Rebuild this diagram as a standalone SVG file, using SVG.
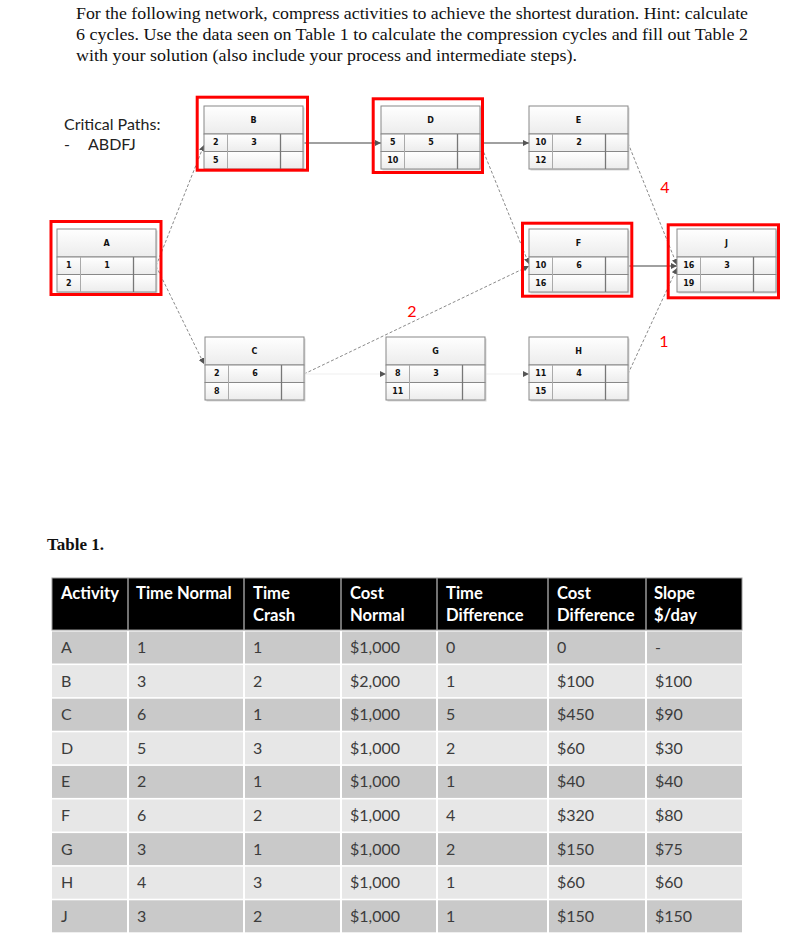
<svg xmlns="http://www.w3.org/2000/svg" xmlns:xlink="http://www.w3.org/1999/xlink" width="803" height="947" viewBox="0 0 803 947">
<style>
.para{font-family:"Liberation Serif","Times New Roman",serif;font-size:17px;fill:#111}
.crit{font-family:Lato,"Liberation Sans",sans-serif;font-size:16px;fill:#222}
.nt{font-family:"DejaVu Sans",sans-serif;font-weight:bold;font-size:8px;fill:#111;text-anchor:middle}
.red{fill:none;stroke:#ff0000;stroke-width:3}
.rl{font-family:Lato,"Liberation Sans",sans-serif;font-size:16px;fill:#ff0000;text-anchor:middle}
.dash{fill:none;stroke:#8a8a8a;stroke-width:1;stroke-dasharray:3 2}
.solid{fill:none;stroke:#808080;stroke-width:1.4}
.faint{fill:none;stroke:#efefef;stroke-width:1}
.th{font-family:Lato,"Liberation Sans",sans-serif;font-weight:bold;font-size:16.6px;fill:#fff}
.td{font-family:Lato,"Liberation Sans",sans-serif;font-size:16px;fill:#3c3c3c}
.tcap{font-family:"Liberation Serif","Times New Roman",serif;font-weight:bold;font-size:17px;fill:#111}
</style>
<defs>
<linearGradient id="ng" x1="0" y1="0" x2="0" y2="1">
<stop offset="0" stop-color="#ffffff"/>
<stop offset="1" stop-color="#ececec"/>
</linearGradient>
<symbol id="nodebox" overflow="visible">
<rect x="1.5" y="1.5" width="99" height="63" fill="#d8d8d8"/>
<rect x="0" y="0" width="99" height="28" fill="url(#ng)" stroke="#888" stroke-width="1"/>
<rect x="0" y="28" width="99" height="17.5" fill="url(#ng)" stroke="#888" stroke-width="1"/>
<rect x="0" y="45.5" width="99" height="17.5" fill="url(#ng)" stroke="#888" stroke-width="1"/>
<line x1="23.5" y1="28" x2="23.5" y2="63" stroke="#aaa" stroke-width="1"/>
<line x1="76.5" y1="28" x2="76.5" y2="63" stroke="#777" stroke-width="1.3"/>
</symbol>
<marker id="ah" viewBox="0 0 6 6" refX="6" refY="3" markerWidth="6" markerHeight="6" markerUnits="userSpaceOnUse" orient="auto">
<path d="M0,0 L6,3 L0,6 Z" fill="#555"/>
</marker>
</defs>
<rect width="803" height="947" fill="#fff"/>

<g id="intro">
<text class="para" x="76" y="19" textLength="672" lengthAdjust="spacingAndGlyphs">For the following network, compress activities to achieve the shortest duration. Hint: calculate</text>
<text class="para" x="76" y="40" textLength="672" lengthAdjust="spacingAndGlyphs">6 cycles. Use the data seen on Table 1 to calculate the compression cycles and fill out Table 2</text>
<text class="para" x="76" y="61" textLength="501" lengthAdjust="spacingAndGlyphs">with your solution (also include your process and intermediate steps).</text>
</g>

<g id="critical-paths">
<text class="crit" x="64" y="130">Critical Paths:</text>
<text class="crit" x="64" y="150">-</text>
<text class="crit" x="88" y="150">ABDFJ</text>
</g>

<g id="connectors">
<path class="dash" d="M156,266 L204,145" marker-end="url(#ah)"/>
<path class="dash" d="M156,266 L204,364" marker-end="url(#ah)"/>
<path class="solid" d="M304,143 L381,143" marker-end="url(#ah)"/>
<path class="solid" d="M480,143 L529,143" marker-end="url(#ah)"/>
<path class="dash" d="M480,143 L529,264" marker-end="url(#ah)"/>
<path class="dash" d="M628,143 L677,265" marker-end="url(#ah)"/>
<path class="dash" d="M304,374 L529,266" marker-end="url(#ah)"/>
<path class="solid" d="M628,266 L677,266" marker-end="url(#ah)"/>
<path class="dash" d="M628,374 L677,268" marker-end="url(#ah)"/>
<path class="faint" d="M304,374 L386,374" marker-end="url(#ah)"/>
<path class="faint" d="M485,374 L529,374" marker-end="url(#ah)"/>
<text class="rl" x="412" y="317">2</text>
<text class="rl" x="665" y="193">4</text>
<text class="rl" x="664" y="347">1</text>
</g>

<g id="node-A">
<use xlink:href="#nodebox" x="57" y="229"/>
<text class="nt" x="106.5" y="245.5">A</text>
<text class="nt" x="68.8" y="268">1</text>
<text class="nt" x="107" y="268">1</text>
<text class="nt" x="68.8" y="286">2</text>
<rect class="red" x="51" y="221.5" width="110" height="73"/>
</g>
<g id="node-B">
<use xlink:href="#nodebox" x="204" y="106"/>
<text class="nt" x="253.5" y="122.5">B</text>
<text class="nt" x="215.8" y="145">2</text>
<text class="nt" x="254" y="145">3</text>
<text class="nt" x="215.8" y="163">5</text>
<rect class="red" x="197.2" y="97.2" width="110.3" height="73"/>
</g>
<g id="node-C">
<use xlink:href="#nodebox" x="205" y="337"/>
<text class="nt" x="254.5" y="353.5">C</text>
<text class="nt" x="216.8" y="376">2</text>
<text class="nt" x="255" y="376">6</text>
<text class="nt" x="216.8" y="394">8</text>
</g>
<g id="node-D">
<use xlink:href="#nodebox" x="381" y="106"/>
<text class="nt" x="430.5" y="122.5">D</text>
<text class="nt" x="392.8" y="145">5</text>
<text class="nt" x="431" y="145">5</text>
<text class="nt" x="392.8" y="163">10</text>
<rect class="red" x="373.2" y="98.8" width="109.3" height="73.7"/>
</g>
<g id="node-E">
<use xlink:href="#nodebox" x="529" y="106"/>
<text class="nt" x="578.5" y="122.5">E</text>
<text class="nt" x="540.8" y="145">10</text>
<text class="nt" x="579" y="145">2</text>
<text class="nt" x="540.8" y="163">12</text>
</g>
<g id="node-F">
<use xlink:href="#nodebox" x="529" y="229"/>
<text class="nt" x="578.5" y="245.5">F</text>
<text class="nt" x="540.8" y="268">10</text>
<text class="nt" x="579" y="268">6</text>
<text class="nt" x="540.8" y="286">16</text>
<rect class="red" x="522.5" y="223.2" width="109.3" height="73"/>
</g>
<g id="node-G">
<use xlink:href="#nodebox" x="386" y="337"/>
<text class="nt" x="435.5" y="353.5">G</text>
<text class="nt" x="397.8" y="376">8</text>
<text class="nt" x="436" y="376">3</text>
<text class="nt" x="397.8" y="394">11</text>
</g>
<g id="node-H">
<use xlink:href="#nodebox" x="529" y="337"/>
<text class="nt" x="578.5" y="353.5">H</text>
<text class="nt" x="540.8" y="376">11</text>
<text class="nt" x="579" y="376">4</text>
<text class="nt" x="540.8" y="394">15</text>
</g>
<g id="node-J">
<use xlink:href="#nodebox" x="677" y="229"/>
<text class="nt" x="726.5" y="245.5">J</text>
<text class="nt" x="688.8" y="268">16</text>
<text class="nt" x="727" y="268">3</text>
<text class="nt" x="688.8" y="286">19</text>
<rect class="red" x="668.2" y="224.8" width="110.3" height="73"/>
</g>

<g id="table1">
<text class="tcap" x="47" y="550">Table 1.</text>
<rect x="52" y="578" width="690" height="52" fill="#000" stroke="#999" stroke-width="1"/>
<g stroke="#999" stroke-width="1.5">
<line x1="128" y1="578" x2="128" y2="630"/>
<line x1="244" y1="578" x2="244" y2="630"/>
<line x1="341" y1="578" x2="341" y2="630"/>
<line x1="437" y1="578" x2="437" y2="630"/>
<line x1="548" y1="578" x2="548" y2="630"/>
<line x1="646" y1="578" x2="646" y2="630"/>
</g>
<text class="th" x="61" y="599">Activity</text>
<text class="th" x="136" y="599">Time Normal</text>
<text class="th" x="253" y="599">Time</text>
<text class="th" x="253" y="621">Crash</text>
<text class="th" x="350" y="599">Cost</text>
<text class="th" x="350" y="621">Normal</text>
<text class="th" x="446" y="599">Time</text>
<text class="th" x="446" y="621">Difference</text>
<text class="th" x="557" y="599">Cost</text>
<text class="th" x="557" y="621">Difference</text>
<text class="th" x="654" y="599">Slope</text>
<text class="th" x="654" y="621">$/day</text>

<rect x="52" y="631.5" width="690" height="32" fill="#c9c9c9"/>
<rect x="52" y="665.1" width="690" height="32" fill="#e7e7e7"/>
<rect x="52" y="698.7" width="690" height="32" fill="#c9c9c9"/>
<rect x="52" y="732.3" width="690" height="32" fill="#e7e7e7"/>
<rect x="52" y="765.9" width="690" height="32" fill="#c9c9c9"/>
<rect x="52" y="799.5" width="690" height="32" fill="#e7e7e7"/>
<rect x="52" y="833.1" width="690" height="32" fill="#c9c9c9"/>
<rect x="52" y="866.7" width="690" height="32" fill="#e7e7e7"/>
<rect x="52" y="900.3" width="690" height="32" fill="#c9c9c9"/>
<g stroke="#fff" stroke-width="2">
<line x1="128" y1="631" x2="128" y2="933"/>
<line x1="244" y1="631" x2="244" y2="933"/>
<line x1="341" y1="631" x2="341" y2="933"/>
<line x1="437" y1="631" x2="437" y2="933"/>
<line x1="548" y1="631" x2="548" y2="933"/>
<line x1="646" y1="631" x2="646" y2="933"/>
</g>

<g class="td">
<text x="61" y="653">A</text><text x="137" y="653">1</text><text x="253" y="653">1</text><text x="350" y="653">$1,000</text><text x="446" y="653">0</text><text x="557" y="653">0</text><text x="655" y="653">-</text>
<text x="61" y="686.6">B</text><text x="137" y="686.6">3</text><text x="253" y="686.6">2</text><text x="350" y="686.6">$2,000</text><text x="446" y="686.6">1</text><text x="557" y="686.6">$100</text><text x="655" y="686.6">$100</text>
<text x="61" y="720.2">C</text><text x="137" y="720.2">6</text><text x="253" y="720.2">1</text><text x="350" y="720.2">$1,000</text><text x="446" y="720.2">5</text><text x="557" y="720.2">$450</text><text x="655" y="720.2">$90</text>
<text x="61" y="753.8">D</text><text x="137" y="753.8">5</text><text x="253" y="753.8">3</text><text x="350" y="753.8">$1,000</text><text x="446" y="753.8">2</text><text x="557" y="753.8">$60</text><text x="655" y="753.8">$30</text>
<text x="61" y="787.4">E</text><text x="137" y="787.4">2</text><text x="253" y="787.4">1</text><text x="350" y="787.4">$1,000</text><text x="446" y="787.4">1</text><text x="557" y="787.4">$40</text><text x="655" y="787.4">$40</text>
<text x="61" y="821">F</text><text x="137" y="821">6</text><text x="253" y="821">2</text><text x="350" y="821">$1,000</text><text x="446" y="821">4</text><text x="557" y="821">$320</text><text x="655" y="821">$80</text>
<text x="61" y="854.6">G</text><text x="137" y="854.6">3</text><text x="253" y="854.6">1</text><text x="350" y="854.6">$1,000</text><text x="446" y="854.6">2</text><text x="557" y="854.6">$150</text><text x="655" y="854.6">$75</text>
<text x="61" y="888.2">H</text><text x="137" y="888.2">4</text><text x="253" y="888.2">3</text><text x="350" y="888.2">$1,000</text><text x="446" y="888.2">1</text><text x="557" y="888.2">$60</text><text x="655" y="888.2">$60</text>
<text x="61" y="921.8">J</text><text x="137" y="921.8">3</text><text x="253" y="921.8">2</text><text x="350" y="921.8">$1,000</text><text x="446" y="921.8">1</text><text x="557" y="921.8">$150</text><text x="655" y="921.8">$150</text>
</g>
</g>
</svg>
